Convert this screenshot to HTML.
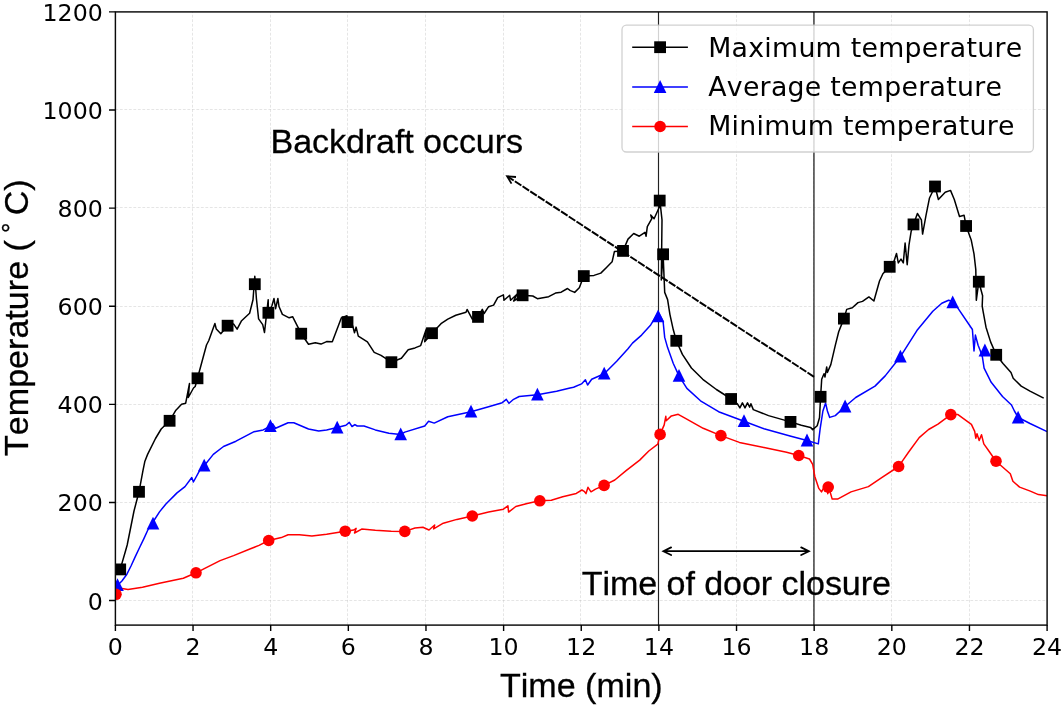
<!DOCTYPE html>
<html lang="en"><head><meta charset="utf-8"><title>Temperature vs Time</title>
<style>html,body{margin:0;padding:0;background:#fff}body{width:1063px;height:706px;overflow:hidden}svg{display:block}</style>
</head><body>
<svg width="1063" height="706" viewBox="0 0 1063 706">
<defs><clipPath id="ax"><rect x="115.4" y="11.9" width="931.7" height="613.2"/></clipPath></defs>
<rect width="1063" height="706" fill="#fff"/>
<path d="M192.5 625.1V11.9M270.5 625.1V11.9M347.5 625.1V11.9M425.5 625.1V11.9M503.5 625.1V11.9M580.5 625.1V11.9M658.5 625.1V11.9M736.5 625.1V11.9M813.5 625.1V11.9M891.5 625.1V11.9M969.5 625.1V11.9M115.4 600.5H1047.1M115.4 502.5H1047.1M115.4 404.5H1047.1M115.4 306.5H1047.1M115.4 207.5H1047.1M115.4 109.5H1047.1" stroke="#b0b0b0" stroke-opacity="0.33" stroke-width="1" stroke-dasharray="2.8 1.7" fill="none"/>
<path d="M658.5 11.9V625.1" stroke="#222" stroke-width="1.15"/>
<path d="M813.95 11.9V625.1" stroke="#1a1a1a" stroke-width="1.25"/>
<g clip-path="url(#ax)" fill="none" stroke-linejoin="round" stroke-width="1.5">
<polyline points="116.0,574.0 120.2,569.4 125.5,551.0 127.2,545.0 134.0,511.0 139.0,491.8 143.0,470.3 144.9,461.2 147.6,454.4 155.5,438.5 161.2,429.0 169.6,420.8 175.9,410.2 181.6,404.3 185.7,403.2 189.5,383.5 188.3,397.5 193.5,388.0 195.2,386.5 197.5,378.3 203.1,357.5 206.5,345.0 208.8,340.5 214.9,323.5 216.3,329.1 220.8,333.7 227.6,325.7 233.7,324.1 237.1,329.1 241.6,320.7 249.6,313.3 253.0,299.7 254.8,276.3 256.4,298.5 258.6,318.9 262.7,324.6 264.5,332.5 268.2,299.7 268.4,312.8 272.0,305.5 274.0,298.5 275.6,308.7 277.9,298.5 279.0,306.5 282.4,314.4 289.2,317.8 292.6,316.7 301.2,333.7 308.5,344.3 315.3,342.7 321.0,344.1 326.6,341.6 332.3,341.8 341.3,318.0 347.0,315.7 347.5,322.1 352.7,325.9 354.5,332.7 356.1,327.1 358.3,336.1 367.4,341.8 374.2,352.4 381.0,355.4 391.4,362.2 401.4,358.3 408.2,349.7 415.0,347.9 420.7,345.6 426.3,328.9 424.7,341.8 432.0,333.2 441.0,323.7 447.8,319.1 455.8,315.3 466.0,312.3 467.1,309.4 472.3,319.1 478.0,316.9 482.3,309.4 484.1,313.5 488.6,306.7 493.6,305.1 497.7,297.6 503.4,294.9 504.0,300.3 509.7,295.3 510.6,300.3 517.0,294.2 513.6,301.0 522.6,295.3 532.8,296.0 537.4,298.7 548.7,296.7 555.5,293.1 561.2,292.2 567.5,288.5 570.0,290.3 570.5,290.6 574.7,292.4 579.3,287.8 583.8,276.1 594.0,275.4 600.8,273.1 606.5,267.5 612.1,261.8 614.4,251.6 623.0,250.9 628.0,239.1 633.7,233.5 639.3,236.2 645.0,232.3 646.1,236.2 647.3,226.7 651.8,218.7 650.7,214.9 654.1,218.7 659.7,206.3 659.9,200.6 662.0,219.9 661.3,279.9 663.1,254.3 664.7,292.4 667.6,299.6 669.9,314.3 673.3,329.8 676.3,340.8 682.4,354.4 691.4,368.0 702.8,379.3 716.4,389.5 731.3,399.0 737.4,403.9 739.9,407.9 742.4,402.9 745.0,407.9 747.5,402.9 749.7,407.1 750.9,403.7 753.3,409.6 768.5,415.6 790.5,421.9 801.3,425.3 810.5,427.4 812.7,429.6 817.2,425.8 819.5,417.8 820.6,396.8 821.7,379.3 824.0,373.7 825.0,377.0 826.7,366.9 827.4,372.5 830.8,364.6 835.3,345.3 838.7,331.7 843.9,318.6 846.7,309.4 852.3,307.8 858.0,302.6 862.5,301.4 868.9,296.9 873.9,301.0 879.5,281.0 882.9,273.8 889.7,266.8 894.2,260.7 896.5,253.4 898.3,262.9 901.0,259.1 903.3,262.9 905.1,243.0 907.2,264.7 909.0,244.8 911.2,231.2 913.5,224.4 917.4,213.5 921.4,219.9 922.6,234.1 926.0,215.3 929.4,198.3 935.0,186.5 938.4,199.5 945.2,192.2 950.5,190.4 954.3,199.5 959.5,216.5 964.1,215.3 966.1,226.0 971.3,240.3 974.0,253.9 975.8,269.7 976.3,300.3 978.8,281.7 982.6,295.8 982.2,306.0 983.1,311.3 986.0,327.2 990.6,341.9 996.2,354.8 1003.0,363.5 1011.0,372.5 1013.2,378.2 1021.2,386.1 1030.0,391.1 1043.7,398.2" stroke="#000"/>
<polyline points="115.4,588.0 117.5,585.5 121.9,581.0 126.9,574.2 131.0,566.0 135.4,556.4 139.6,547.5 143.9,538.6 147.6,530.5 150.6,525.1 153.0,522.0 159.5,511.9 165.7,504.2 177.0,492.9 185.0,486.6 191.8,477.5 193.4,482.0 199.7,470.3 204.2,465.7 213.3,454.4 223.5,446.5 236.0,441.2 254.1,431.7 263.2,429.9 270.4,426.1 272.7,423.8 275.6,428.3 288.1,422.7 293.8,422.7 308.5,429.0 318.7,431.0 326.6,429.9 337.2,427.6 345.9,425.3 349.3,422.4 352.0,426.5 354.9,424.6 357.2,426.0 364.0,426.0 375.3,429.9 388.9,433.3 400.7,434.4 404.8,432.1 424.7,426.0 428.6,421.2 434.2,423.1 447.8,416.7 471.0,411.7 488.6,406.7 502.2,402.7 506.3,399.3 509.0,403.3 513.6,399.3 519.2,396.5 537.4,394.7 556.6,391.3 570.0,387.9 573.6,387.3 581.5,383.9 585.4,379.8 587.6,385.0 591.7,379.3 604.2,373.7 616.7,361.2 628.0,348.7 632.5,343.1 641.6,335.1 650.7,324.9 658.4,312.5 663.1,321.5 664.7,337.4 667.6,347.6 673.3,363.5 679.0,375.9 686.9,388.4 700.5,400.8 718.6,411.7 744.0,421.2 764.0,428.7 790.0,436.0 807.0,440.5 818.3,443.9 820.1,429.2 822.9,411.0 825.6,403.1 827.4,411.0 829.7,417.4 835.3,415.6 845.1,406.5 855.7,397.5 875.0,386.1 885.2,375.9 900.4,356.7 916.9,330.6 932.8,311.3 941.8,303.3 948.6,300.3 952.7,301.5 957.7,307.9 972.4,329.5 974.0,351.0 975.4,335.1 978.1,345.3 980.4,351.0 982.4,357.0 984.1,368.2 991.2,382.3 1002.5,396.5 1011.5,405.0 1014.4,411.0 1018.3,417.5 1030.0,423.5 1047.1,431.6" stroke="#0000ff"/>
<polyline points="116.0,594.3 122.1,588.4 128.0,589.6 142.5,587.2 159.5,583.3 183.3,578.2 196.0,572.8 204.8,568.3 220.1,560.6 233.6,555.6 250.5,548.8 259.0,545.4 268.7,540.5 281.3,537.6 288.1,534.8 299.4,534.8 311.9,536.0 326.6,534.2 345.2,531.2 353.8,530.0 356.1,528.4 354.5,533.0 361.7,529.1 375.3,530.3 391.2,531.2 404.8,531.4 415.0,528.0 422.9,527.3 429.0,530.0 434.7,525.0 433.6,528.9 443.3,523.2 456.9,519.4 472.3,516.0 488.6,512.1 503.4,509.2 507.9,505.8 508.6,512.1 515.8,506.5 527.2,503.5 539.6,500.8 551.3,500.2 562.7,496.8 576.3,493.4 581.9,490.0 584.2,491.3 586.0,493.6 588.0,487.3 591.0,491.8 595.5,489.1 604.1,485.4 614.8,480.0 626.1,470.7 639.7,460.1 648.8,451.0 657.8,444.2 660.1,434.4 664.2,424.9 665.8,416.3 666.2,420.8 671.4,415.9 678.2,414.3 685.0,418.1 703.2,428.3 720.9,435.6 739.4,442.4 764.0,447.6 786.6,452.3 798.7,455.5 809.5,459.0 812.7,464.3 814.8,476.4 818.8,488.4 821.5,491.9 824.2,487.1 828.2,487.1 827.7,493.8 829.5,489.8 832.2,499.1 837.6,499.1 851.0,491.9 868.4,486.6 881.7,477.7 898.6,466.5 903.2,459.8 908.5,452.3 919.2,437.6 928.6,429.5 938.0,424.2 950.8,414.6 958.0,414.6 971.4,424.4 974.7,431.4 975.8,438.2 977.0,433.7 979.2,440.5 981.5,434.8 983.8,443.9 989.4,451.8 996.0,461.2 1010.3,473.7 1012.9,481.2 1019.6,487.1 1030.3,491.1 1038.4,494.6 1047.1,495.7" stroke="#ff0000"/>
<g stroke="none">
<g fill="#000"><rect x="114.3" y="563.5" width="11.8" height="11.8"/><rect x="133.1" y="485.9" width="11.8" height="11.8"/><rect x="163.7" y="414.9" width="11.8" height="11.8"/><rect x="191.6" y="372.4" width="11.8" height="11.8"/><rect x="221.7" y="319.8" width="11.8" height="11.8"/><rect x="248.9" y="278.3" width="11.8" height="11.8"/><rect x="262.5" y="306.9" width="11.8" height="11.8"/><rect x="295.3" y="327.8" width="11.8" height="11.8"/><rect x="341.6" y="316.2" width="11.8" height="11.8"/><rect x="385.5" y="356.3" width="11.8" height="11.8"/><rect x="426.1" y="327.3" width="11.8" height="11.8"/><rect x="472.1" y="311.0" width="11.8" height="11.8"/><rect x="516.7" y="289.4" width="11.8" height="11.8"/><rect x="577.9" y="270.2" width="11.8" height="11.8"/><rect x="617.1" y="245.0" width="11.8" height="11.8"/><rect x="653.8" y="194.7" width="11.8" height="11.8"/><rect x="657.2" y="248.4" width="11.8" height="11.8"/><rect x="670.4" y="334.9" width="11.8" height="11.8"/><rect x="725.2" y="393.1" width="11.8" height="11.8"/><rect x="784.6" y="416.0" width="11.8" height="11.8"/><rect x="814.7" y="390.9" width="11.8" height="11.8"/><rect x="838.0" y="312.7" width="11.8" height="11.8"/><rect x="883.8" y="260.9" width="11.8" height="11.8"/><rect x="907.6" y="218.5" width="11.8" height="11.8"/><rect x="929.1" y="180.6" width="11.8" height="11.8"/><rect x="960.2" y="220.1" width="11.8" height="11.8"/><rect x="972.9" y="275.8" width="11.8" height="11.8"/><rect x="990.3" y="348.9" width="11.8" height="11.8"/></g>
<g fill="#0000ff"><path d="M117.5 578.3L123.8 591.1H111.2Z"/><path d="M153.0 516.7L159.3 529.5H146.7Z"/><path d="M204.2 458.8L210.5 471.6H197.9Z"/><path d="M270.4 419.2L276.7 432.0H264.1Z"/><path d="M337.2 420.7L343.5 433.5H330.9Z"/><path d="M400.7 427.5L407.0 440.3H394.4Z"/><path d="M471.0 404.8L477.3 417.6H464.7Z"/><path d="M537.4 387.8L543.7 400.6H531.1Z"/><path d="M604.2 366.8L610.5 379.6H597.9Z"/><path d="M658.1 309.4L664.4 322.2H651.8Z"/><path d="M679.0 369.0L685.3 381.8H672.7Z"/><path d="M744.0 414.3L750.3 427.1H737.7Z"/><path d="M807.0 433.6L813.3 446.4H800.7Z"/><path d="M845.1 399.6L851.4 412.4H838.8Z"/><path d="M900.4 349.8L906.7 362.6H894.1Z"/><path d="M952.7 295.4L959.0 308.2H946.4Z"/><path d="M984.9 343.6L991.2 356.4H978.6Z"/><path d="M1018.1 410.7L1024.4 423.5H1011.8Z"/></g>
<g fill="#ff0000"><circle cx="116.0" cy="594.3" r="5.8"/><circle cx="196.0" cy="572.8" r="5.8"/><circle cx="268.7" cy="540.5" r="5.8"/><circle cx="345.2" cy="531.2" r="5.8"/><circle cx="404.8" cy="531.4" r="5.8"/><circle cx="472.3" cy="516.0" r="5.8"/><circle cx="539.8" cy="500.8" r="5.8"/><circle cx="604.1" cy="485.4" r="5.8"/><circle cx="660.1" cy="434.4" r="5.8"/><circle cx="720.9" cy="435.6" r="5.8"/><circle cx="798.7" cy="455.5" r="5.8"/><circle cx="828.2" cy="487.1" r="5.8"/><circle cx="898.6" cy="466.5" r="5.8"/><circle cx="950.8" cy="414.6" r="5.8"/><circle cx="996.0" cy="461.2" r="5.8"/></g>
</g></g>
<path d="M814 376.8L507.6 176.5" stroke="#000" stroke-width="2" stroke-dasharray="7.8 1.4" fill="none"/>
<path d="M516 177L507.1 176.2L511.5 183.6" stroke="#000" stroke-width="1.8" fill="none"/>
<path d="M664 551.2H808.5M671.1 547.4L663.4 551.2L671.1 555M801.2 547.4L808.9 551.2L801.2 555" stroke="#000" stroke-width="1.75" stroke-linecap="round" stroke-linejoin="miter" fill="none"/>
<rect x="115.4" y="11.9" width="931.7" height="613.2" fill="none" stroke="#0a0a0a" stroke-width="1.45"/>
<path d="M115.40 625.1v6M193.04 625.1v6M270.68 625.1v6M348.33 625.1v6M425.97 625.1v6M503.61 625.1v6M581.25 625.1v6M658.89 625.1v6M736.53 625.1v6M814.17 625.1v6M891.82 625.1v6M969.46 625.1v6M1047.10 625.1v6M115.4 600.57h-6.4M115.4 502.46h-6.4M115.4 404.35h-6.4M115.4 306.24h-6.4M115.4 208.12h-6.4M115.4 110.01h-6.4M115.4 11.90h-6.4" stroke="#000" stroke-width="1.4" fill="none"/>
<g font-family="'DejaVu Sans', 'Liberation Sans', sans-serif" font-size="23.7" fill="#000">
<text x="115.4" y="655.2" text-anchor="middle">0</text>
<text x="193.0" y="655.2" text-anchor="middle">2</text>
<text x="270.7" y="655.2" text-anchor="middle">4</text>
<text x="348.3" y="655.2" text-anchor="middle">6</text>
<text x="426.0" y="655.2" text-anchor="middle">8</text>
<text x="503.6" y="655.2" text-anchor="middle">10</text>
<text x="581.2" y="655.2" text-anchor="middle">12</text>
<text x="658.9" y="655.2" text-anchor="middle">14</text>
<text x="736.5" y="655.2" text-anchor="middle">16</text>
<text x="814.2" y="655.2" text-anchor="middle">18</text>
<text x="891.8" y="655.2" text-anchor="middle">20</text>
<text x="969.5" y="655.2" text-anchor="middle">22</text>
<text x="1047.1" y="655.2" text-anchor="middle">24</text>
<text x="102.8" y="609.5" text-anchor="end">0</text>
<text x="102.8" y="511.4" text-anchor="end">200</text>
<text x="102.8" y="413.2" text-anchor="end">400</text>
<text x="102.8" y="315.1" text-anchor="end">600</text>
<text x="102.8" y="217.0" text-anchor="end">800</text>
<text x="102.8" y="118.9" text-anchor="end">1000</text>
<text x="102.8" y="20.8" text-anchor="end">1200</text>
</g>
<g font-family="'Liberation Sans', sans-serif" font-size="34.1" fill="#000" stroke="#000" stroke-width="0.3" style="font-kerning:none">
<text x="581.3" y="696.6" text-anchor="middle">Time (min)</text>
<text transform="translate(28.3 456) rotate(-90)"><tspan>Temperature (</tspan><tspan dx="7" dy="-8.6" font-size="26">°</tspan><tspan dx="7.4" dy="8.6">C)</tspan></text>
<text x="270.6" y="153.1" style="letter-spacing:-0.09px">Backdraft occurs</text>
<text x="581.7" y="595.2" style="letter-spacing:-0.07px">Time of door closure</text>
</g>
<rect x="622" y="25.2" width="411.4" height="126.8" rx="4.5" fill="#fff" fill-opacity="0.8" stroke="#ccc" stroke-opacity="0.9" stroke-width="1.3"/>
<path d="M632.2 47.2H687.9" stroke="#000" stroke-width="1.5"/>
<path d="M632.2 87.0H687.9" stroke="#0000ff" stroke-width="1.5"/>
<path d="M632.2 126.5H687.9" stroke="#ff0000" stroke-width="1.5"/>
<rect x="654.2" y="41.3" width="11.8" height="11.8" fill="#000"/>
<path d="M660.1 80.1L666.4 92.9H653.8Z" fill="#0000ff"/>
<circle cx="660.1" cy="126.5" r="5.8" fill="#ff0000"/>
<g font-family="'DejaVu Sans', 'Liberation Sans', sans-serif" font-size="26.75" fill="#000" style="font-kerning:none;letter-spacing:0.28px">
<text x="708.2" y="56.55">Maximum temperature</text>
<text x="708.2" y="95.85">Average temperature</text>
<text x="708.2" y="135.05">Minimum temperature</text>
</g>
</svg>
</body></html>
